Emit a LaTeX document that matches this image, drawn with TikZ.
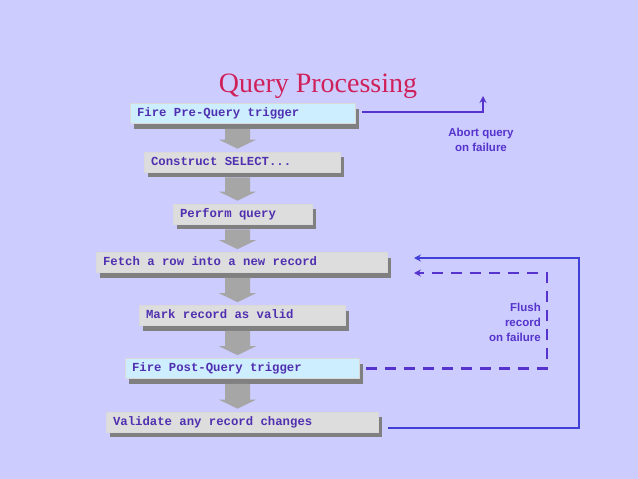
\documentclass[tikz,border=0pt]{standalone}
\usepackage{fontspec}
\setmainfont{Liberation Serif}
\newfontfamily\boxfont{Liberation Mono}
\newfontfamily\labfont{Liberation Sans}
\usetikzlibrary{arrows.meta,calc,shadows}
\definecolor{bg}{HTML}{CCCCFF}
\definecolor{boxgray}{HTML}{DDDDDD}
\definecolor{boxcyan}{HTML}{CCEEFF}
\definecolor{shadowgray}{HTML}{808080}
\definecolor{boxtext}{HTML}{5030B0}
\definecolor{titlered}{HTML}{D0205A}
\definecolor{arrowgray}{HTML}{A6A6A6}
\definecolor{connpurple}{HTML}{5533CC}
\definecolor{connblue}{HTML}{4040D8}
\newcommand\bxfont{\boxfont\bfseries\fontsize{12.3}{14}\selectfont}
\newcommand\garrow[2]{%
  \fill[arrowgray] let \p1=(#1.south), \p2=(#2.north) in
    (225,{\y1-5pt}) -- (250,{\y1-5pt}) -- (250,{\y2+12pt}) -- (256,{\y2+12pt})
    -- (237.5,{\y2+3pt}) -- (219,{\y2+12pt}) -- (225,{\y2+12pt}) -- cycle;}
\begin{document}
\begin{tikzpicture}[x=1pt,y=-1pt,
  stepbox/.style={draw=white!70!gray, line width=0.6pt, fill=boxgray,
    minimum height=20pt, inner xsep=7pt, inner ysep=0pt,
    font=\bxfont, text=boxtext, align=flush left, text height=8pt, text depth=2pt,
    drop shadow={shadow xshift=4pt, shadow yshift=-5pt, fill=shadowgray, opacity=1}},
  cyanbox/.style={stepbox, fill=boxcyan},
  conn/.style={draw=connpurple, line width=2.4pt, arrows={-Stealth[length=7pt,width=7pt,inset=2.5pt]}},
  dconn/.style={conn, dash pattern=on 11pt off 8pt},
  sconn/.style={conn, draw=connblue},
  lab/.style={font=\labfont\bfseries\fontsize{11.5}{15}\selectfont, text=connpurple, inner sep=0pt}]
\useasboundingbox (0,0) rectangle (638,479);
\fill[bg] (0,0) rectangle (638,479);

\node[font=\fontsize{28}{30}\selectfont, text=titlered] (title) at (318,86) {Query Processing};

\node[cyanbox, text width=211pt] (n1) at (242.5,113.5) {Fire Pre-Query trigger};
\node[stepbox, text width=182pt] (n2) at (242,162) {Construct SELECT...};
\node[stepbox, text width=125pt] (n3) at (242.5,214) {Perform query};
\node[stepbox, text width=277pt] (n4) at (241.5,262.5) {Fetch a row into a new record};
\node[stepbox, text width=192pt] (n5) at (242,315.5) {Mark record as valid};
\node[cyanbox, text width=220pt] (n6) at (242,368.5) {Fire Post-Query trigger};
\node[stepbox, text width=258pt] (n7) at (242,422) {Validate any record changes};

\garrow{n1}{n2}
\garrow{n2}{n3}
\garrow{n3}{n4}
\garrow{n4}{n5}
\garrow{n5}{n6}
\garrow{n6}{n7}

\coordinate (abortend) at (483,96);
\draw[conn] ([xshift=7pt,yshift=1.5pt]n1.east) -| (abortend);
\node[lab, align=center] (abortlab) at (481,139.5) {Abort query\\on failure};

\coordinate (fcorner) at (579,258);
\coordinate (fend) at (414,258);
\draw[sconn] ([xshift=10pt,yshift=-6pt]n7.east) -| (fcorner) -- (fend);

\coordinate (dcorner) at (547,273);
\coordinate (dend) at (414,273);
\draw[dconn] ([xshift=7pt]n6.east) -| (dcorner) -- (dend);
\node[lab, align=right, anchor=east] (flushlab) at (541,322) {Flush\\record\\on failure};
\end{tikzpicture}
\end{document}
